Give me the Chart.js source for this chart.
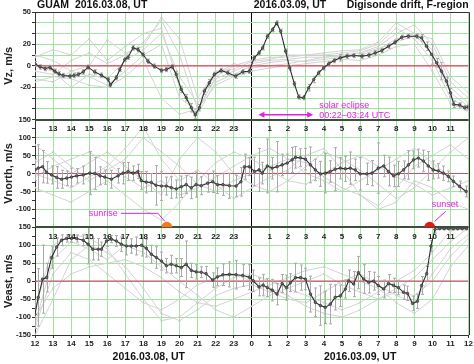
<!DOCTYPE html>
<html><head><meta charset="utf-8">
<script src="https://cdn.jsdelivr.net/npm/chart.js@4"></script>
<style>html,body{margin:0;padding:0;background:#fff}canvas{display:block}</style>
</head><body>
<canvas id="c" width="474" height="364"></canvas>
<script>
// ---------- data ----------
const hourLabels = ['12','13','14','15','16','17','18','19','20','21','22','23','0','1','2','3','4','5','6','7','8','9','10','11','12'];
const hours = [12,13,14,15,16,17,18,19,20,21,22,23,24,25,26,27,28,29,30,31,32,33,34,35,36];
const vzLabeled = [50,20,0,-20];
const vnLabeled = [150,100,50,0,-50,-100];
const veLabeled = [150,100,50,0,-50,-100,-150];
const sunriseT = 19.3, sunsetT = 33.85, eclipseStart = 24.37, eclipseEnd = 27.4;

// main series: [UT hour, value m/s, error m/s]
const vzMain = [[12.00,2,2],[12.28,-1,2],[12.55,-2.5,2],[12.83,-1.5,2],[13.10,-5,2],[13.33,-7.5,2],[13.56,-9,2],[13.93,-9.6,2],[14.15,-9,2],[14.40,-8,2],[14.67,-5.6,2],[14.94,-1.2,2],[15.30,-5.6,2],[15.68,-8.7,2],[16.05,-12.6,2],[16.17,-17.9,2],[16.50,-11,2],[16.69,-3.4,2],[16.97,5.9,2],[17.15,8,2],[17.43,16.7,2],[17.70,15.1,2],[17.98,10.5,2],[18.25,4.3,2],[18.60,-0.3,2],[19.00,-4.3,2],[19.27,-3.4,2],[19.60,-0.9,2],[19.82,-8,3],[20.10,-21.9,3],[20.37,-29.6,3],[20.65,-38.9,4],[20.87,-45.7,3],[21.10,-38.9,3],[21.38,-23.5,3],[21.65,-15.7,3],[21.93,-8,2],[22.30,-4.3,2],[22.66,-6.5,2],[23.10,-9.6,2],[23.50,-5.6,2],[23.86,-5,2],
[24.13,7.4,2],[24.40,12,2],[24.60,16.7,2],[24.87,27.5,2],[25.15,33.6,2],[25.38,39.8,2],[25.60,32,2],[25.87,13.6,2],[26.10,-1.9,2],[26.36,-16.7,2],[26.60,-29,2],[26.87,-29.6,2],[27.15,-20.4,3],[27.43,-12.7,3],[27.70,-6.5,2],[27.98,-1.9,2],[28.26,1.9,2],[28.57,4.9,2],[28.90,7.4,3],[29.27,9,2],[29.64,9.6,2],[30.10,9,2],[30.47,9.9,2],[30.83,12,2],[31.20,14.2,2],[31.57,18.2,2],[31.93,21.9,2],[32.30,26.6,2],[32.67,27.5,2],[33.13,27.5,2],[33.40,26,3],[33.68,18.2,4],[33.96,10.5,9],[34.23,2.8,4],[34.50,-5,8],[34.78,-14.2,4],[35.00,-25,4],[35.18,-35.8,3],[35.50,-36.4,2],[35.78,-38.9,2],[35.97,-38.3,2]];

const vnMain = [[12.00,10,30],[12.18,15,65],[12.42,19,45],[12.64,3,30],[12.92,-4,25],[13.20,-11,30],[13.47,-16,25],[13.75,-13,20],[14.02,-10,25],[14.30,-6.5,20],[14.67,-4,25],[15.03,1,60],[15.30,0,45],[15.60,-6.5,25],[15.86,-10,20],[16.23,-16,25],[16.60,-6.5,20],[16.87,1,30],[17.15,5.6,25],[17.43,1,20],[17.70,5.6,20],[17.88,-20,25],[18.16,-24,30],[18.44,-25,25],[18.70,-33,55],[19.00,-35,40],[19.27,-35,25],[19.54,-39,30],[19.82,-43,25],[20.10,-37,30],[20.37,-31,25],[20.65,-40,30],[20.92,-31,35],[21.20,-34,25],[21.56,-27,25],[21.84,-23,30],[22.10,-31,25],[22.40,-31,30],[22.76,-34,35],[23.13,-35,30],[23.40,-23,40],[23.60,19,35],[23.86,19,25],
[24.15,5.6,40],[24.40,10,60],[24.58,1,30],[24.86,21,75],[25.13,15,30],[25.40,19,70],[25.68,24,30],[25.96,29,25],[26.23,38,35],[26.42,45,30],[26.69,44,25],[26.97,40,30],[27.25,24,50],[27.52,10,30],[27.80,-1,35],[28.07,1,55],[28.35,5.6,30],[28.62,12,60],[28.90,15,30],[29.18,13,35],[29.45,15,45],[29.73,10,30],[30.00,-1,45],[30.37,-1,30],[30.65,1,35],[31.00,15,70],[31.30,21,30],[31.57,5.6,40],[31.85,-6.5,30],[32.12,-1,35],[32.40,10,25],[32.67,24,40],[32.95,38,25],[33.22,43,25],[33.50,35,30],[33.77,21,40],[34.05,10,25],[34.33,7.4,20],[34.60,1,20],[34.88,-8,15],[35.16,-22,15],[35.50,-36,15],[35.87,-50,15]];

const veMain = [[12.00,-92,40],[12.18,-45,80],[12.42,5.6,95],[12.64,10,40],[12.92,66,30],[13.20,95,25],[13.47,114,15],[13.75,119,10],[14.02,119,10],[14.30,119,10],[14.67,114,15],[14.94,103,55],[15.20,89,30],[15.50,89,30],[15.68,89,20],[15.96,112,15],[16.23,117,10],[16.50,112,15],[16.78,103,20],[17.06,98,25],[17.33,98,20],[17.60,98,25],[17.90,100,30],[18.16,92,25],[18.44,75,25],[18.72,66,30],[19.00,56,25],[19.27,43,20],[19.54,47,25],[19.82,43,20],[20.10,38,25],[20.37,47,65],[20.65,30,20],[20.92,26,20],[21.20,25,15],[21.47,21,20],[21.84,3,20],[22.10,12,25],[22.40,18,30],[22.76,19,35],[23.13,18,40],[23.50,16,30],[23.86,11,35],
[24.08,1,30],[24.40,-16,25],[24.63,-11,30],[24.86,-18,25],[25.13,-25,30],[25.40,-36,30],[25.68,-6.5,25],[25.92,-18,35],[26.14,-4,25],[26.42,10,40],[26.70,10,35],[26.97,6,30],[27.25,-36,50],[27.52,-59,40],[27.80,-68,55],[28.07,-73,45],[28.35,-64,55],[28.62,-45,35],[28.90,-41,30],[29.18,-22,25],[29.36,1,30],[29.64,-8,35],[29.90,24,45],[30.19,6,40],[30.47,-3,30],[30.74,0,25],[31.00,-12,25],[31.30,-22,25],[31.57,-6.5,25],[31.85,-12,20],[32.12,-18,20],[32.40,-31,20],[32.62,-34,20],[32.90,-62,20],[33.17,-56,20],[33.40,-12,25],[33.68,21,20],[33.92,98,15],[34.14,144,10],[34.40,146,0],[34.65,146,0],[34.90,146,0],[35.15,146,0],[35.40,146,0],[35.65,146,0],[35.90,146,0]];

// quiet-day background curves (hourly)
const vzQuiet1 = [-5,-8,5,12,2,10,22,42,10,-40,-12,-5,2,5,6,8,8,10,12,18,30,38,20,-15,-30];
const vzQuiet2 = [8,15,10,25,5,18,30,35,-20,-45,-15,-8,0,3,5,4,6,8,10,15,25,30,10,-25,-38];
const vzQuiet3 = [-12,-15,-5,-10,-18,-5,10,20,-30,-42,-10,0,5,8,8,10,10,12,14,20,35,25,5,-30,-40];
const vzQuiet4 = [0,-5,-20,-8,-12,5,15,30,-10,-35,-8,2,-2,0,2,5,8,9,12,16,22,28,15,-20,-35];
const vzQuiet5 = [10,5,-5,0,24,12,18,45,25,-30,-5,-3,4,6,10,10,12,14,15,22,40,30,25,-10,-25];
const vzQuiet6 = [-15,-10,-12,-18,-20,-10,5,-30,-45,-40,-18,-10,-5,-2,0,2,4,6,5,10,18,20,-5,-35,-42];
const vnQuiet1 = [30,60,20,-20,10,40,100,60,20,-30,-50,-20,0,20,40,30,-10,-40,-60,-90,-40,20,50,80,40];
const vnQuiet2 = [-40,-60,-80,-50,-20,-60,-100,-130,-80,-20,30,60,40,10,-20,-30,0,30,50,20,-10,-30,-60,-40,-20];
const vnQuiet3 = [80,40,0,30,60,20,-20,-60,40,100,60,0,-30,-50,-20,20,60,40,10,-30,-70,-40,10,60,100];
const vnQuiet4 = [-10,20,40,60,30,-10,-40,-20,-60,-40,-10,20,50,70,40,0,-20,-50,-20,10,40,70,30,-10,-60];
const vnQuiet5 = [0,-20,-40,-10,20,70,130,40,-20,10,-30,-70,-40,-10,10,50,70,10,-60,-100,-80,-20,-40,-80,-100];
const veQuiet1 = [-150,-50,60,100,80,40,-20,-90,-110,-80,-40,-20,-10,-30,-50,-60,-30,0,20,-10,-40,-60,20,90,130];
const veQuiet2 = [-120,60,110,90,60,100,80,40,0,-40,-80,-100,-70,-40,-20,0,20,-10,-30,-50,-20,10,60,110,150];
const veQuiet3 = [-80,100,130,120,90,20,-50,-110,-100,-60,-20,10,20,0,-20,-40,-60,-80,-60,-30,0,30,80,140,150];
const veQuiet4 = [-100,-20,20,40,50,60,40,10,-30,-60,-70,-50,-30,-10,10,30,40,20,0,-20,-60,-90,-50,40,100];
const veQuiet5 = [-130,20,80,60,20,-20,-60,-80,-50,-10,10,20,0,-20,-40,-70,-90,-100,-80,-50,-30,-40,0,70,120];

// ---------- styling ----------
const FONT = '"Liberation Sans", Arial, sans-serif';
const GREEN = '#9ee39e';
const MAG = '#e81ee8';

function greyDs(vals, axis){
  return {data: hours.map((h,i)=>({x:h,y:vals[i]})), yAxisID: axis, borderColor:'#d3d3d3', borderWidth:1,
    pointRadius:1, pointBackgroundColor:'#c8c8c8', pointBorderWidth:0, order:3};
}
function mainDs(arr, axis){
  return {data: arr.map(p=>({x:p[0],y:p[1]})), errs: arr.map(p=>p[2]), yAxisID: axis,
    borderColor:'#2b2b2b', borderWidth:1.1, pointRadius:1.3, pointBackgroundColor:'#666',
    pointBorderColor:'#333', pointBorderWidth:0.7, order:1};
}
function zeroDs(axis, col){
  return {data:[{x:hours[0],y:0},{x:hours[hours.length-1],y:0}], yAxisID:axis, borderColor:col, borderWidth:1.2, pointRadius:0, order:2};
}

const datasets = [
  mainDs(vzMain,'yVz'), mainDs(vnMain,'yVn'), mainDs(veMain,'yVe'),
  zeroDs('yVz','#e3405c'), zeroDs('yVn','#c85570'), zeroDs('yVe','#c85570'),
  ...[vzQuiet1,vzQuiet2,vzQuiet3,vzQuiet4,vzQuiet5,vzQuiet6].map(v=>greyDs(v,'yVz')),
  ...[vnQuiet1,vnQuiet2,vnQuiet3,vnQuiet4,vnQuiet5].map(v=>greyDs(v,'yVn')),
  ...[veQuiet1,veQuiet2,veQuiet3,veQuiet4,veQuiet5].map(v=>greyDs(v,'yVe'))
];

const tickFont = {family: FONT, size: 7.5, weight: 'bold'};
function yAxis(min, max, step, labeled, weight, gridEvery){
  return {type:'linear', position:'left', stack:'p', stackWeight:1, weight: weight, min:min, max:max,
    ticks:{stepSize:step, autoSkip:false, font:tickFont, color:'#222', padding:1,
      callback: v => labeled.includes(v) ? String(v) : ''},
    grid:{color: c => (c.tick && Math.abs(c.tick.value % gridEvery) < 1e-6) ? GREEN : 'rgba(0,0,0,0)',
      tickLength:3, tickColor:'#333', lineWidth:1},
    border:{color:'#333', width:1},
    afterFit: s => { s.width = 35; }
  };
}

const panelClip = {
  id:'panelClip',
  beforeDatasetDraw(chart, args){
    const ds = chart.data.datasets[args.index];
    const sc = chart.scales[ds.yAxisID];
    const ctx = chart.ctx, a = chart.chartArea;
    ctx.save();
    ctx.beginPath();
    ctx.rect(a.left, sc.top, a.right - a.left, sc.bottom - sc.top);
    ctx.clip();
    if (ds.errs){
      const xs = chart.scales.x;
      ctx.strokeStyle = '#aaaaaa'; ctx.lineWidth = 1;
      ds.data.forEach((p,i)=>{
        const e = ds.errs[i]; if (!e) return;
        const x = Math.round(xs.getPixelForValue(p.x)) + 0.5;
        const y1 = sc.getPixelForValue(p.y + e), y2 = sc.getPixelForValue(p.y - e);
        ctx.beginPath();
        ctx.moveTo(x, y1); ctx.lineTo(x, y2);
        ctx.moveTo(x-1.5, y1); ctx.lineTo(x+1.5, y1);
        ctx.moveTo(x-1.5, y2); ctx.lineTo(x+1.5, y2);
        ctx.stroke();
      });
    }
  },
  afterDatasetDraw(chart){ chart.ctx.restore(); }
};

const deco = {
  id:'deco',
  afterDraw(chart){
    const {ctx, chartArea:a, scales} = chart;
    const xs = scales.x, z = scales.yVz, n = scales.yVn, e = scales.yVe;
    ctx.save();
    ctx.strokeStyle = '#333'; ctx.lineWidth = 1;
    ctx.beginPath();
    ctx.moveTo(a.left, Math.round(a.top)+0.5); ctx.lineTo(Math.round(a.right)+0.5, Math.round(a.top)+0.5);
    ctx.lineTo(Math.round(a.right)+0.5, a.bottom); ctx.stroke();
    ctx.strokeStyle = '#3d4d3d'; ctx.lineWidth = 2;
    [n.top, e.top].forEach(y=>{ ctx.beginPath(); ctx.moveTo(a.left, Math.round(y)); ctx.lineTo(a.right, Math.round(y)); ctx.stroke(); });

    // inner hour labels
    ctx.font = 'bold 8px ' + FONT; ctx.fillStyle = '#222'; ctx.textAlign = 'center'; ctx.textBaseline = 'middle';
    hourLabels.forEach((lab,i)=>{
      if (i===0 || i===12 || i===hourLabels.length-1) return;
      const x = xs.getPixelForValue(hours[i]);
      ctx.fillText(lab, x, n.top + 9);
      ctx.fillText(lab, x, e.top + 9);
    });

    // titles
    ctx.font = 'bold 10.5px ' + FONT; ctx.fillStyle = '#111'; ctx.textBaseline = 'middle';
    ctx.textAlign = 'left';
    ctx.fillText('GUAM  2016.03.08, UT', a.left + 2, 5);
    ctx.fillText('2016.03.09, UT', xs.getPixelForValue(24) + 2, 5);
    ctx.textAlign = 'right';
    ctx.fillText('Digisonde drift, F-region', a.right, 5);
    ctx.textAlign = 'center';
    ctx.fillText('2016.03.08, UT', xs.getPixelForValue(18.3), 357);
    ctx.fillText('2016.03.09, UT', xs.getPixelForValue(30), 357);

    // y titles
    ctx.font = 'bold 11px ' + FONT; ctx.fillStyle = '#222';
    [[z,'Vz, m/s'],[n,'Vnorth, m/s'],[e,'Veast, m/s']].forEach(([s,t])=>{
      ctx.save(); ctx.translate(9, (s.top + s.bottom)/2); ctx.rotate(-Math.PI/2);
      ctx.fillText(t, 0, 0); ctx.restore();
    });

    // eclipse
    const x1 = xs.getPixelForValue(eclipseStart), x2 = xs.getPixelForValue(eclipseEnd);
    const ya = z.bottom - 5;
    ctx.strokeStyle = MAG; ctx.fillStyle = MAG; ctx.lineWidth = 1.5;
    ctx.beginPath(); ctx.moveTo(x1+3, ya); ctx.lineTo(x2-3, ya); ctx.stroke();
    [[x1,1],[x2,-1]].forEach(([x,d])=>{
      ctx.beginPath(); ctx.moveTo(x, ya); ctx.lineTo(x+6*d, ya-3); ctx.lineTo(x+6*d, ya+3); ctx.closePath(); ctx.fill();
    });
    ctx.font = '9px ' + FONT; ctx.textAlign = 'left'; ctx.textBaseline = 'middle';
    ctx.fillText('solar eclipse', x2 + 6, z.bottom - 14);
    ctx.fillText('00:22\u201303:24 UTC', x2 + 6, z.bottom - 4.5);

    // sunrise
    const xr = xs.getPixelForValue(sunriseT), yb = n.bottom;
    ctx.lineWidth = 1;
    ctx.beginPath(); ctx.moveTo(xr-46, yb-14); ctx.lineTo(xr-9, yb-14); ctx.lineTo(xr-2, yb-6); ctx.stroke();
    ctx.textAlign = 'right';
    ctx.fillText('sunrise', xr-49, yb-14);
    ctx.fillStyle = '#f07a1e';
    ctx.beginPath(); ctx.arc(xr, yb, 5.5, Math.PI, 2*Math.PI); ctx.closePath(); ctx.fill();

    // sunset
    const xt = xs.getPixelForValue(sunsetT);
    ctx.strokeStyle = MAG; ctx.fillStyle = MAG;
    ctx.beginPath(); ctx.moveTo(xt+16, yb-16); ctx.lineTo(xt+5, yb-6); ctx.stroke();
    ctx.textAlign = 'left';
    ctx.fillText('sunset', xt+2, yb-23);
    ctx.fillStyle = '#e21a10';
    ctx.beginPath(); ctx.arc(xt, yb, 5.5, Math.PI, 2*Math.PI); ctx.closePath(); ctx.fill();
    ctx.restore();
  }
};

new Chart(document.getElementById('c'), {
  type:'line',
  data:{datasets},
  options:{
    responsive:false, animation:false, devicePixelRatio:1,
    layout:{padding:{top:12, right:4, bottom:15, left:0}},
    plugins:{legend:{display:false}, tooltip:{enabled:false}},
    elements:{line:{tension:0}},
    scales:{
      x:{type:'linear', min:12, max:36, position:'bottom',
        ticks:{stepSize:1, autoSkip:false, maxRotation:0, font:{family:FONT,size:8,weight:'bold'}, color:'#222', padding:1,
          callback: v => hourLabels[Math.round(v-12)]},
        grid:{color: c => (c.tick && c.tick.value===24) ? '#000' : GREEN, lineWidth:1, tickLength:3, tickColor:'#333'},
        border:{color:'#333'},
        afterFit: s => { s.height = 14; }
      },
      yVz: yAxis(-50, 50, 10, vzLabeled, 3, 10),
      yVn: yAxis(-150, 150, 25, vnLabeled, 2, 50),
      yVe: yAxis(-150, 150, 25, veLabeled, 1, 50)
    }
  },
  plugins:[panelClip, deco]
});
</script>
</body></html>
